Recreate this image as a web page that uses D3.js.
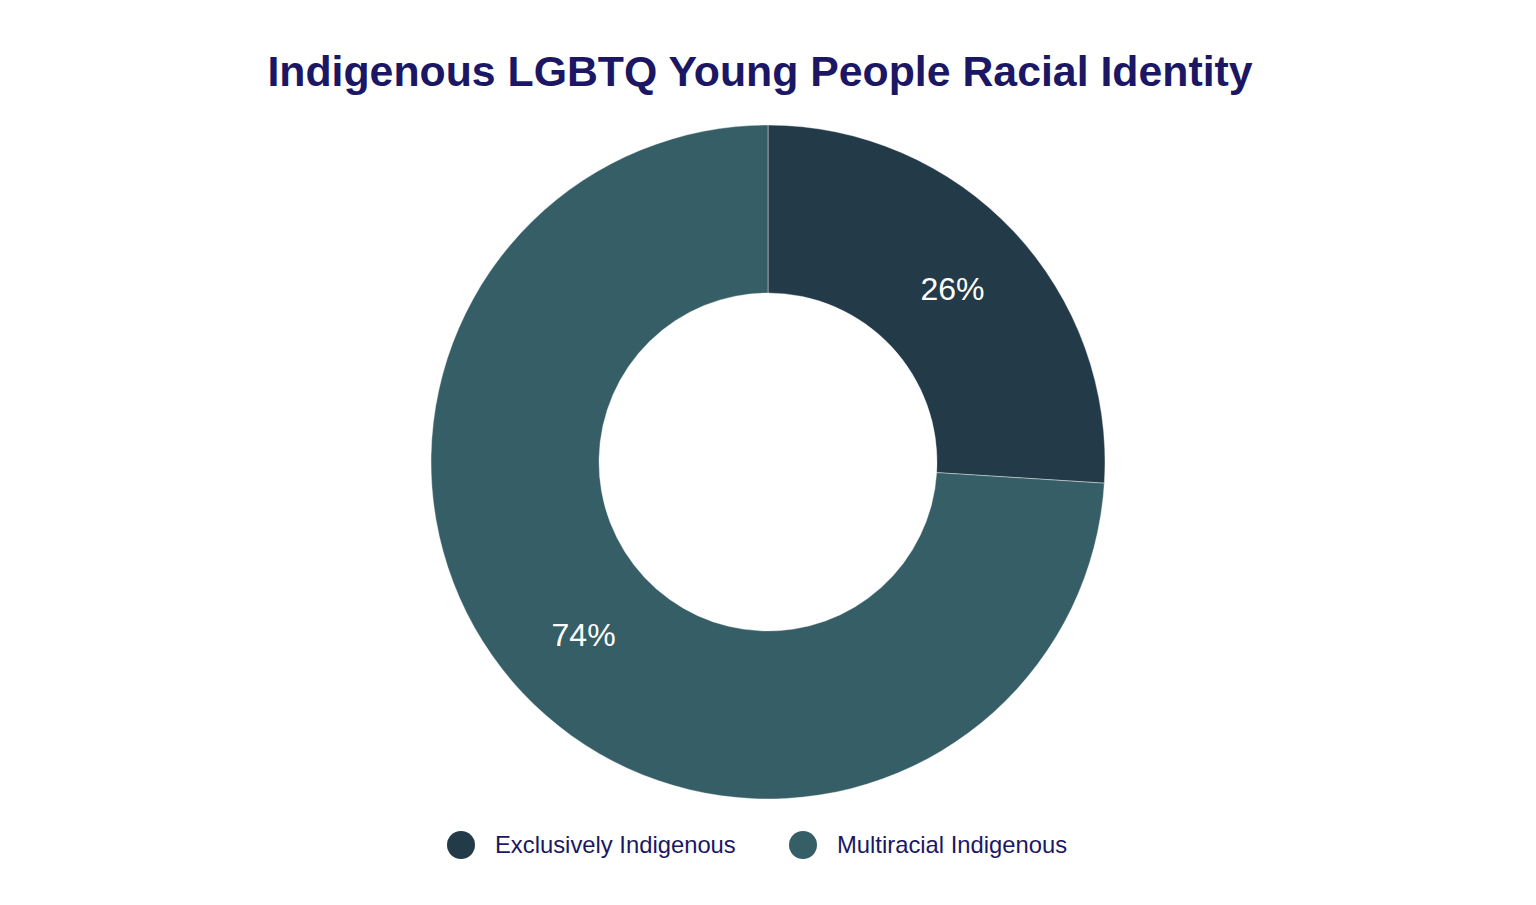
<!DOCTYPE html>
<html>
<head>
<meta charset="utf-8">
<script src="https://cdn.jsdelivr.net/npm/d3@7"></script>
<style>
  body { margin: 0; background: #fff; font-family: "Liberation Sans", Arial, sans-serif; }
</style>
</head>
<body>
<div id="chart"></div>
<script>
const categories = ['Exclusively Indigenous', 'Multiracial Indigenous'];
const values = [26, 74];
const colors = ['#233a48', '#365e66'];

const width = 1536, height = 905;
const cx = 768, cy = 462;
const outerR = 337, innerR = 169;

const svg = d3.select('#chart')
    .append('svg')
    .attr('width', width)
    .attr('height', height);

// title
svg.append('text')
    .attr('x', 760)
    .attr('y', 86)
    .attr('text-anchor', 'middle')
    .attr('font-size', '42.8px')
    .attr('font-weight', 'bold')
    .attr('fill', '#1b1764')
    .text('Indigenous LGBTQ Young People Racial Identity');

const pie = d3.pie().sort(null).value(d => d.value);
const data = categories.map((c, i) => ({ name: c, value: values[i], color: colors[i] }));

const arc = d3.arc().innerRadius(innerR).outerRadius(outerR);
const labelArc = d3.arc().innerRadius((innerR + outerR) / 2).outerRadius((innerR + outerR) / 2);

const g = svg.append('g')
    .attr('transform', 'translate(' + cx + ', ' + cy + ')');

const slices = g.selectAll('g.slice')
    .data(pie(data))
    .enter()
    .append('g')
    .attr('class', 'slice');

slices.append('path')
    .attr('d', arc)
    .attr('fill', d => d.data.color)
    .attr('stroke', '#fff')
    .attr('stroke-width', 0.4);

slices.append('text')
    .attr('transform', d => 'translate(' + labelArc.centroid(d) + ')')
    .attr('text-anchor', 'middle')
    .attr('dy', '0.35em')
    .attr('font-size', '32px')
    .attr('fill', '#fff')
    .text(d => d.data.value + '%');

// legend
const legendX = [461, 803];
const legend = svg.selectAll('g.legend')
    .data(data)
    .enter()
    .append('g')
    .attr('class', 'legend')
    .attr('transform', (d, i) => 'translate(' + legendX[i] + ', 845)');

legend.append('circle')
    .attr('r', 14)
    .attr('fill', d => d.color);

legend.append('text')
    .attr('x', 34)
    .attr('dy', '0.35em')
    .attr('font-size', '23.8px')
    .attr('fill', '#1b1764')
    .text(d => d.name);
</script>
</body>
</html>
